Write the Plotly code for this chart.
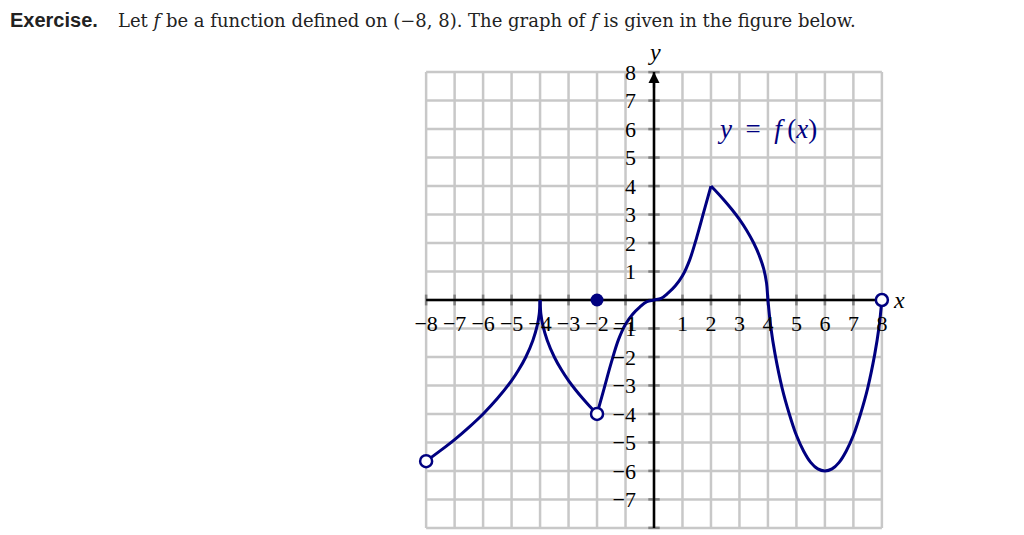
import plotly.graph_objects as go

NAVY = "#000080"
GRID_GRAY = "#c8c8c8"
TICK_GRAY = "#808080"
SERIF = "Liberation Serif, Times New Roman, serif"
TEXT_SERIF = "DejaVu Serif, serif"
SANS = "Liberation Sans, Arial, sans-serif"

# ---- data ----------------------------------------------------------------
grid_vals = list(range(-8, 9))
tick_vals = [-8, -7, -6, -5, -4, -3, -2, -1, 1, 2, 3, 4, 5, 6, 7, 8]
tick_text = ["−8", "−7", "−6", "−5", "−4", "−3", "−2", "−1",
             "1", "2", "3", "4", "5", "6", "7", "8"]

# branch on (-8, -4]
x_left = [-8, -7.5, -7, -6.5, -6, -5.5, -5, -4.75, -4.5, -4.25, -4.1, -4.03, -4]
y_left = [-5.66, -5.29, -4.9, -4.47, -4.0, -3.46, -2.83, -2.45, -2.0, -1.41, -0.9, -0.5, 0]

# branch on [-4, -2)
x_dip = [-4, -3.97, -3.9, -3.75, -3.5, -3.25, -3, -2.75, -2.5, -2.25, -2]
y_dip = [0, -0.5, -0.9, -1.41, -2.0, -2.45, -2.83, -3.16, -3.46, -3.74, -4]

# branch on (-2, 2]
x_mid = [-2, -1.75, -1.5, -1.25, -1, -0.75, -0.5, -0.25, 0,
         0.25, 0.5, 0.75, 1, 1.25, 1.5, 1.75, 2]
y_mid = [-4, -3.1, -2.2, -1.4, -0.85, -0.5, -0.25, -0.06, 0,
         0.06, 0.25, 0.5, 0.85, 1.4, 2.2, 3.1, 4]

# branch on [2, 8)
x_right = [2, 2.25, 2.5, 2.75, 3, 3.25, 3.5, 3.7, 3.85, 3.95, 4,
           4.1, 4.25, 4.5, 4.75, 5, 5.25, 5.5, 5.75, 6,
           6.25, 6.5, 6.75, 7, 7.25, 7.5, 7.75, 7.9, 8]
y_right = [4, 3.74, 3.46, 3.16, 2.83, 2.45, 2.0, 1.55, 1.1, 0.6, 0,
           -0.95, -1.9, -3.1, -4.0, -4.75, -5.3, -5.7, -5.93, -6,
           -5.93, -5.7, -5.3, -4.75, -4.0, -3.1, -1.9, -0.95, 0]

open_x = [-8, -2, 8]
open_y = [-5.66, -4, 0]
filled_x = [-2]
filled_y = [0]

# ---- page geometry (pixels of the browser page) --------------------------
PAGE_W, PAGE_H = 1024, 535
BODY = 8                      # default body margin of the html page
W, H = PAGE_W - BODY, PAGE_H - BODY
M_L, M_T = 426 - 7 - BODY, 72 - 7 - BODY
PLOT = 470
LO, HI = -8.25, 8.25


def page_x(px):
    return (px - BODY - M_L) / PLOT


def page_y(py):
    return 1 - (py - BODY - M_T) / PLOT


def data_to_paper(v):
    return (v - LO) / (HI - LO)


fig = go.Figure()

curve = dict(color=NAVY, width=3, shape="spline", smoothing=1.0)
for xs, ys in [(x_left, y_left), (x_dip, y_dip), (x_mid, y_mid), (x_right, y_right)]:
    fig.add_trace(go.Scatter(x=xs, y=ys, mode="lines", line=curve,
                             hoverinfo="skip", cliponaxis=False))

fig.add_trace(go.Scatter(
    x=open_x, y=open_y, mode="markers", cliponaxis=False,
    marker=dict(size=12, color="white", line=dict(color=NAVY, width=2.5)),
))
fig.add_trace(go.Scatter(
    x=filled_x, y=filled_y, mode="markers", cliponaxis=False,
    marker=dict(size=13, color=NAVY),
))

# grid
g0, g1 = grid_vals[0], grid_vals[-1]
for v in grid_vals:
    fig.add_shape(type="line", x0=v, x1=v, y0=g0, y1=g1, layer="below",
                  line=dict(color=GRID_GRAY, width=2.5))
    fig.add_shape(type="line", x0=g0, x1=g1, y0=v, y1=v, layer="below",
                  line=dict(color=GRID_GRAY, width=2.5))

# tick marks across the axes
for v in grid_vals:
    fig.add_shape(type="line", x0=v, x1=v, y0=-0.19, y1=0.19, layer="below",
                  line=dict(color=TICK_GRAY, width=2.5))
    fig.add_shape(type="line", x0=-0.2, x1=0.2, y0=v, y1=v, layer="below",
                  line=dict(color=TICK_GRAY, width=2.5))

# axes
fig.add_shape(type="line", x0=g0, x1=g1, y0=0, y1=0, layer="below",
              line=dict(color="black", width=2.5))
fig.add_shape(type="line", x0=0, x1=0, y0=g0, y1=g1, layer="below",
              line=dict(color="black", width=2.5))
fig.add_annotation(x=0, y=g1, ax=0, ay=g1 - 0.6, xref="x", yref="y",
                   axref="x", ayref="y", text="", showarrow=True,
                   arrowhead=2, arrowsize=1, arrowwidth=2.2,
                   arrowcolor="black", standoff=0)

# axis names
fig.add_annotation(x=data_to_paper(8.33), y=data_to_paper(0), xref="paper",
                   yref="paper", text="<i>x</i>", showarrow=False,
                   xanchor="left", yanchor="middle",
                   font=dict(family=SERIF, size=24, color="black"))
fig.add_annotation(x=data_to_paper(0), y=data_to_paper(8.7), xref="paper",
                   yref="paper", text="<i>y</i>", showarrow=False,
                   xanchor="center", yanchor="middle",
                   font=dict(family=SERIF, size=24, color="black"))

fig.add_annotation(x=3.95, y=6, xref="x", yref="y",
                   text="<i>y</i>\u2002=\u2002<i>f</i>\u2009(<i>x</i>)",
                   showarrow=False, xanchor="center", yanchor="middle",
                   font=dict(family=SERIF, size=27, color=NAVY))

# heading line
fig.add_annotation(x=page_x(8), y=page_y(20), xref="paper",
                   yref="paper", text="<b>Exercise.</b>", showarrow=False,
                   xanchor="left", yanchor="middle",
                   font=dict(family=SANS, size=20, color="#222222"))
fig.add_annotation(x=page_x(116), y=page_y(20), xref="paper",
                   yref="paper",
                   text="Let <i>f</i> be a function defined on (−8, 8). "
                        "The graph of <i>f</i> is given in the figure below.",
                   showarrow=False, xanchor="left", yanchor="middle",
                   font=dict(family=TEXT_SERIF, size=18, color="#222222"))

axis_common = dict(
    range=[LO, HI], showgrid=False, zeroline=False, showline=False,
    ticks="", tickvals=tick_vals, ticktext=tick_text, anchor="free",
    position=0.5, fixedrange=True,
    tickfont=dict(family=SERIF, size=22, color="black"),
)
fig.update_layout(
    width=W, height=H,
    margin=dict(l=M_L, r=W - M_L - PLOT, t=M_T, b=H - M_T - PLOT, pad=0),
    paper_bgcolor="white", plot_bgcolor="white",
    showlegend=False,
    xaxis=dict(axis_common, ticklabelstandoff=8),
    yaxis=dict(axis_common, ticklabelstandoff=18),
)

fig.write_html("out.html")
